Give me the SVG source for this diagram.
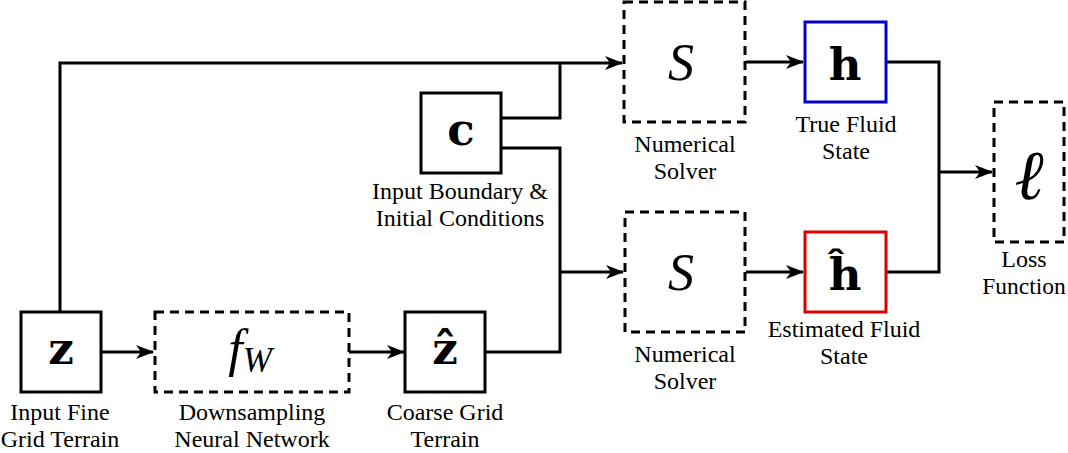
<svg xmlns="http://www.w3.org/2000/svg" width="1068" height="453" viewBox="0 0 1068 453">
<defs>
<marker id="arr" markerUnits="userSpaceOnUse" markerWidth="18" markerHeight="14" refX="17" refY="7" orient="auto">
<path d="M0,0 L18,7 L0,14 L5,7 Z" fill="#000"/>
</marker>
</defs>
<style>
.box{fill:#fff;stroke:#000;stroke-width:3}
.dash{fill:#fff;stroke:#000;stroke-width:3;stroke-dasharray:9 6}
.line{fill:none;stroke:#000;stroke-width:3}
.lbl{font-family:"Liberation Serif","Times New Roman",serif;font-size:24px;fill:#000;text-anchor:middle}
.bold{font-family:"DejaVu Serif",serif;font-weight:bold;font-size:45px;fill:#000;text-anchor:middle}
.it{font-family:"Liberation Serif","Times New Roman",serif;font-style:italic;font-size:52px;fill:#000;text-anchor:middle}
</style>
<rect width="1068" height="453" fill="#fff"/>
<g id="connectors">
<path class="line" d="M60,312 V63 H622" marker-end="url(#arr)"/>
<path class="line" d="M502,118 H560 V63"/>
<path class="line" d="M502,148 H560 V352 H484"/>
<path class="line" d="M560,272 H623" marker-end="url(#arr)"/>
<path class="line" d="M100,352 H153" marker-end="url(#arr)"/>
<path class="line" d="M349,352 H404" marker-end="url(#arr)"/>
<path class="line" d="M746,62 H803" marker-end="url(#arr)"/>
<path class="line" d="M746,272 H803" marker-end="url(#arr)"/>
<path class="line" d="M886,62 H939 V272 H886"/>
<path class="line" d="M939,172 H992" marker-end="url(#arr)"/>
</g>
<g id="node-z">
<rect class="box" x="21" y="312" width="80" height="80"/>
<text class="bold" x="61" y="364">z</text>
<text class="lbl" x="60" y="420">Input Fine</text>
<text class="lbl" x="60" y="447">Grid Terrain</text>
</g>
<g id="node-fw">
<rect class="dash" x="155" y="312" width="194" height="80"/>
<text class="it" x="250" y="366">f<tspan font-size="35" dy="6">W</tspan></text>
<text class="lbl" x="252" y="420">Downsampling</text>
<text class="lbl" x="252" y="447">Neural Network</text>
</g>
<g id="node-zhat">
<rect class="box" x="405" y="312" width="80" height="80"/>
<text class="bold" x="445" y="364">ẑ</text>
<text class="lbl" x="445" y="420">Coarse Grid</text>
<text class="lbl" x="445" y="447">Terrain</text>
</g>
<g id="node-c">
<rect class="box" x="421" y="93" width="80" height="80"/>
<text class="bold" x="461" y="145">c</text>
<text class="lbl" x="460" y="199">Input Boundary &amp;</text>
<text class="lbl" x="460" y="226">Initial Conditions</text>
</g>
<g id="node-s1">
<rect class="dash" x="624" y="2" width="121" height="120"/>
<text class="it" x="681" y="80">S</text>
<text class="lbl" x="685" y="152">Numerical</text>
<text class="lbl" x="685" y="179">Solver</text>
</g>
<g id="node-s2">
<rect class="dash" x="625" y="212" width="120" height="120"/>
<text class="it" x="681" y="290">S</text>
<text class="lbl" x="685" y="362">Numerical</text>
<text class="lbl" x="685" y="389">Solver</text>
</g>
<g id="node-h">
<rect class="box" x="805" y="22" width="81" height="80" style="stroke:#0000cc"/>
<text class="bold" x="845" y="80">h</text>
<text class="lbl" x="846" y="132">True Fluid</text>
<text class="lbl" x="846" y="159">State</text>
</g>
<g id="node-hhat">
<rect class="box" x="805" y="232" width="81" height="80" style="stroke:#dd0000"/>
<text class="bold" x="845" y="290">ĥ</text>
<text class="lbl" x="844" y="337">Estimated Fluid</text>
<text class="lbl" x="844" y="364">State</text>
</g>
<g id="node-loss">
<rect class="dash" x="994" y="102" width="70" height="140"/>
<text x="1029" y="199" style="font-family:'DejaVu Serif',serif;font-style:italic;font-size:70px;text-anchor:middle">ℓ</text>
<text class="lbl" x="1024" y="267">Loss</text>
<text class="lbl" x="1024" y="294" style="font-size:23.5px">Function</text>
</g>
</svg>
